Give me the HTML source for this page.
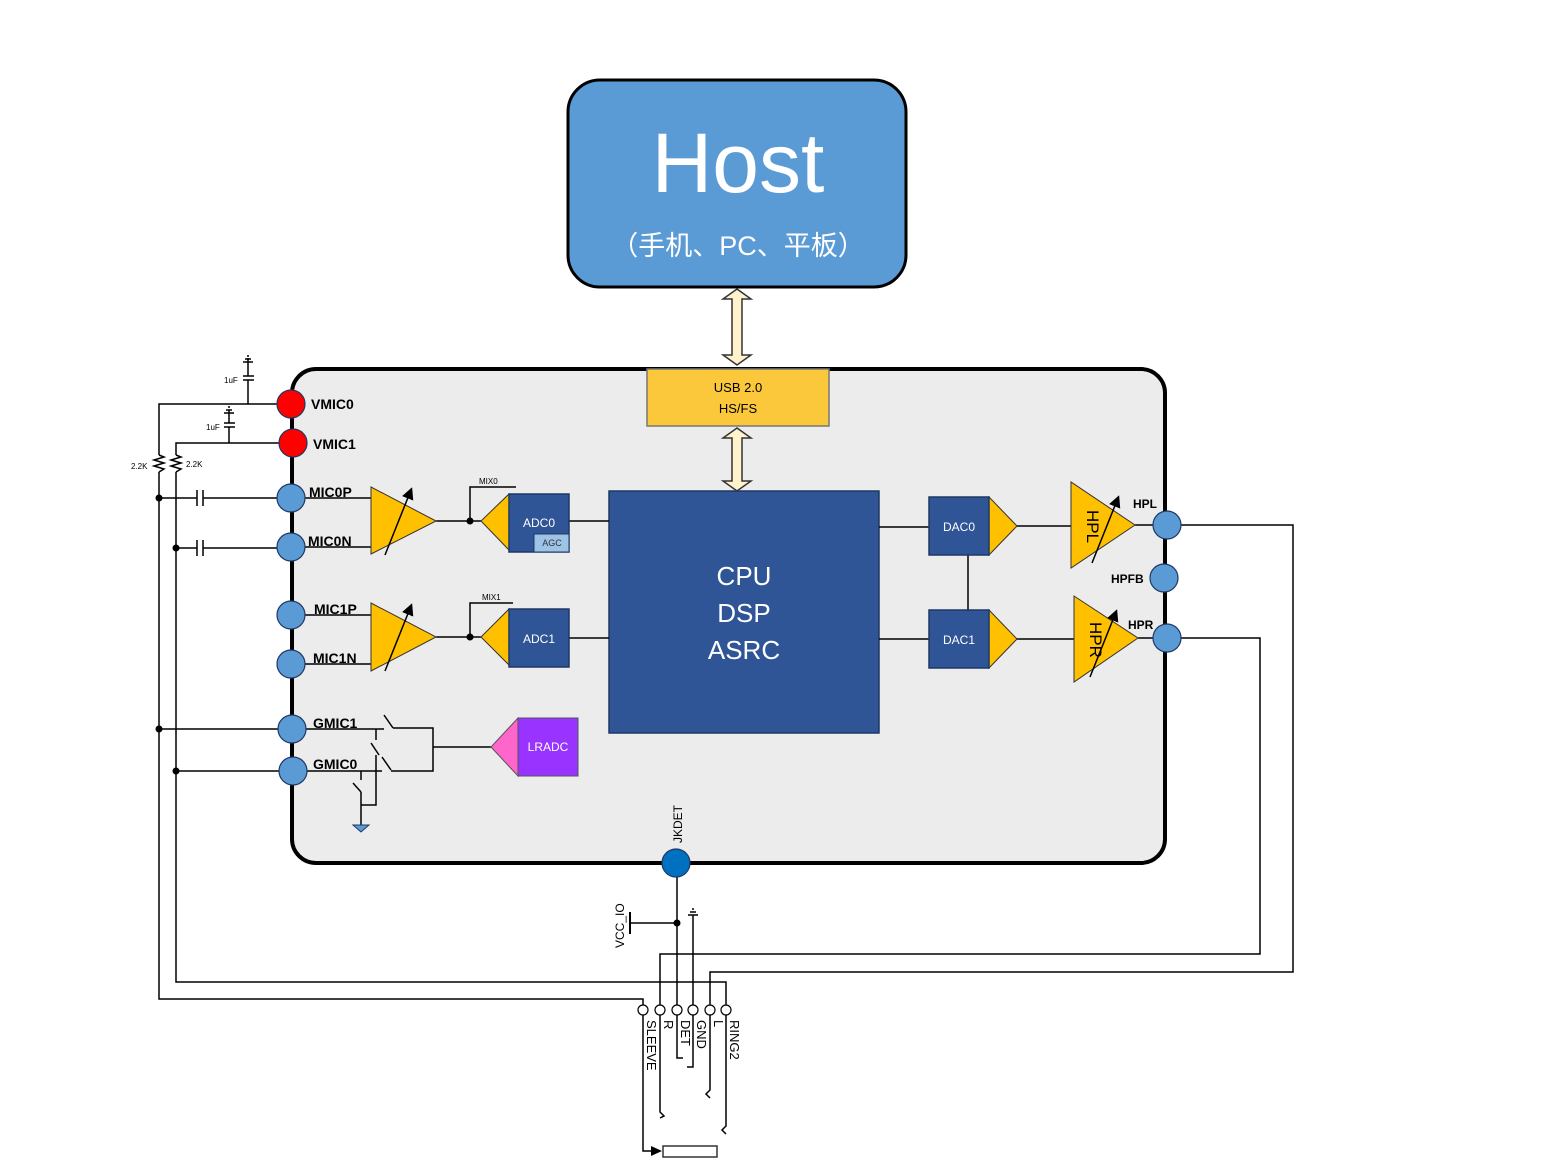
<!DOCTYPE html>
<html><head><meta charset="utf-8"><style>
html,body{margin:0;padding:0;background:#fff;}
svg{display:block;font-family:"Liberation Sans","Noto Sans CJK SC",sans-serif;}
.b{font-weight:bold;font-size:14px;fill:#000}
.w{fill:#fff}
</style></head><body>
<svg width="1558" height="1172" viewBox="0 0 1558 1172">
<defs>
<marker id="ah" markerWidth="8" markerHeight="8" refX="6" refY="4" orient="auto"><path d="M0,0 L8,4 L0,8z" fill="#000"/></marker>
</defs>
<!-- Host -->
<rect x="568" y="80" width="338" height="207" rx="32" fill="#5b9bd5" stroke="#000" stroke-width="3"/>
<text x="738" y="192" text-anchor="middle" font-size="84" class="w">Host</text>
<text x="738" y="255" text-anchor="middle" font-size="27" class="w">（手机、PC、平板）</text>
<!-- Main box -->
<rect x="292" y="369" width="873" height="494" rx="24" fill="#ececec" stroke="#000" stroke-width="4"/>
<!-- double arrows -->
<path d="M737,289 L751,299 L742,299 L742,355 L751,355 L737,365 L723,355 L732,355 L732,299 L723,299 Z" fill="#fff2cc" stroke="#333" stroke-width="1.5"/>
<path d="M737,428 L751,438 L742,438 L742,481 L751,481 L737,491 L723,481 L732,481 L732,438 L723,438 Z" fill="#fff2cc" stroke="#333" stroke-width="1.5"/>
<!-- USB -->
<rect x="647" y="369" width="182" height="57" fill="#fcc83b" stroke="#777" stroke-width="1.5"/>
<text x="738" y="392" text-anchor="middle" font-size="13">USB 2.0</text>
<text x="738" y="413" text-anchor="middle" font-size="13">HS/FS</text>
<!-- CPU -->
<rect x="609" y="491" width="270" height="242" fill="#2f5597" stroke="#1f3864" stroke-width="1.5"/>
<text x="744" y="585" text-anchor="middle" font-size="26" class="w">CPU</text>
<text x="744" y="622" text-anchor="middle" font-size="26" class="w">DSP</text>
<text x="744" y="659" text-anchor="middle" font-size="26" class="w">ASRC</text>
<g stroke="#000" stroke-width="1.5" fill="none">
<line x1="569" y1="521" x2="609" y2="521"/>
<line x1="569" y1="638" x2="609" y2="638"/>
<line x1="879" y1="527" x2="929" y2="527"/>
<line x1="879" y1="639" x2="929" y2="639"/>
<line x1="968" y1="555" x2="968" y2="610"/>
<line x1="1017" y1="526" x2="1071" y2="526"/>
<line x1="1017" y1="639" x2="1074" y2="639"/>
<line x1="1135" y1="525" x2="1167" y2="525"/>
<line x1="1138" y1="638" x2="1167" y2="638"/>
<!-- pin lines left -->
<line x1="291" y1="498" x2="371" y2="498"/>
<line x1="291" y1="547" x2="371" y2="547"/>
<line x1="291" y1="615" x2="371" y2="615"/>
<line x1="291" y1="664" x2="371" y2="664"/>
<line x1="436" y1="521" x2="481" y2="521"/>
<line x1="436" y1="637" x2="481" y2="637"/>
<polyline points="470,521 470,487 516,487"/>
<polyline points="470,637 470,603 513,603"/>
<!-- GMIC switches -->
<line x1="291" y1="729" x2="384" y2="729"/>
<line x1="384" y1="715" x2="393" y2="728"/>
<polyline points="393,728 433,728 433,771 391,771"/>
<line x1="382" y1="757" x2="391" y2="770"/>
<line x1="291" y1="771" x2="382" y2="771"/>
<line x1="433" y1="747" x2="491" y2="747"/>
<polyline points="376,729 376,740"/>
<line x1="371" y1="743" x2="379" y2="755"/>
<polyline points="376,755 376,805 361,805"/>
<polyline points="361,771 361,780"/>
<line x1="353" y1="783" x2="361" y2="792"/>
<polyline points="361,792 361,825"/>
<!-- outer wiring -->
<polyline points="1167,525 1293,525 1293,972 710,972 710,1010"/>
<polyline points="1167,638 1260,638 1260,954 660,954 660,1010"/>
<polyline points="277,404 159,404 159,455"/>
<polyline points="159,472 159,999 643,999 643,1010"/>
<polyline points="279,443 176,443 176,455"/>
<polyline points="176,472 176,982 726,982 726,1010"/>
<path d="M159,455 l5,2 l-10,3 l10,3 l-10,3 l10,3 l-5,3"/>
<path d="M176,455 l5,2 l-10,3 l10,3 l-10,3 l10,3 l-5,3"/>
<line x1="248" y1="404" x2="248" y2="380"/>
<line x1="243" y1="380" x2="254" y2="380"/><line x1="243" y1="376" x2="254" y2="376"/>
<line x1="248" y1="376" x2="248" y2="358"/>
<line x1="243" y1="362" x2="253" y2="362"/><line x1="245" y1="359" x2="251" y2="359"/><line x1="247" y1="356" x2="249" y2="356"/>
<line x1="229" y1="443" x2="229" y2="427"/>
<line x1="224" y1="427" x2="235" y2="427"/><line x1="224" y1="423" x2="235" y2="423"/>
<line x1="229" y1="423" x2="229" y2="410"/>
<line x1="224" y1="413" x2="234" y2="413"/><line x1="226" y1="410" x2="232" y2="410"/><line x1="228" y1="407" x2="230" y2="407"/>
<line x1="159" y1="498" x2="197" y2="498"/><line x1="203" y1="498" x2="277" y2="498"/>
<line x1="197" y1="490" x2="197" y2="506"/><line x1="203" y1="490" x2="203" y2="506"/>
<line x1="176" y1="548" x2="197" y2="548"/><line x1="203" y1="548" x2="277" y2="548"/>
<line x1="197" y1="540" x2="197" y2="556"/><line x1="203" y1="540" x2="203" y2="556"/>
<line x1="159" y1="729" x2="278" y2="729"/>
<line x1="176" y1="771" x2="279" y2="771"/>
<!-- jack -->
<line x1="677" y1="877" x2="677" y2="1005"/>
<line x1="630" y1="923" x2="677" y2="923"/>
<line x1="630" y1="912" x2="630" y2="934" stroke-width="2"/>
<line x1="693" y1="915" x2="693" y2="1005"/>
<line x1="688" y1="915" x2="698" y2="915"/><line x1="690" y1="912" x2="696" y2="912"/><line x1="692" y1="909" x2="694" y2="909"/>
<polyline points="643,1015 643,1151 656,1151"/>
<rect x="663" y="1146" width="54" height="11" stroke="#333"/>
<polyline points="660,1015 660,1112 664,1116 660,1118"/>
<polyline points="677,1015 677,1058 683,1058"/>
<polyline points="693,1015 693,1067 687,1067"/>
<polyline points="710,1015 710,1090 706,1094 710,1098"/>
<polyline points="726,1015 726,1126 722,1130 726,1134"/>
</g>
<path d="M651,1146 L662,1151 L651,1156Z" fill="#000"/>
<path d="M353,825 L369,825 L361,832Z" fill="#5b9bd5" stroke="#1f3864"/>
<g fill="#fff" stroke="#000" stroke-width="1.2">
<circle cx="643" cy="1010" r="5"/><circle cx="660" cy="1010" r="5"/><circle cx="677" cy="1010" r="5"/>
<circle cx="693" cy="1010" r="5"/><circle cx="710" cy="1010" r="5"/><circle cx="726" cy="1010" r="5"/>
</g>
<g font-size="13" fill="#000">
<text transform="translate(647,1020) rotate(90)">SLEEVE</text>
<text transform="translate(664,1020) rotate(90)">R</text>
<text transform="translate(681,1020) rotate(90)">DET</text>
<text transform="translate(697,1020) rotate(90)">GND</text>
<text transform="translate(714,1020) rotate(90)">L</text>
<text transform="translate(730,1020) rotate(90)">RING2</text>
<text transform="translate(624,948) rotate(-90)" font-size="12">VCC_IO</text>
<text transform="translate(682,843) rotate(-90)" font-size="12">JKDET</text>
</g>
<g fill="#000">
<circle cx="677" cy="923" r="3.5"/><circle cx="470" cy="521" r="3.5"/><circle cx="470" cy="637" r="3.5"/>
<circle cx="159" cy="498" r="3.5"/><circle cx="176" cy="548" r="3.5"/><circle cx="159" cy="729" r="3.5"/><circle cx="176" cy="771" r="3.5"/>
</g>
<g font-size="8" fill="#000">
<text x="224" y="383">1uF</text><text x="206" y="430">1uF</text>
<text x="131" y="469">2.2K</text><text x="186" y="467">2.2K</text>
<text x="479" y="484">MIX0</text><text x="482" y="600">MIX1</text>
</g>
<!-- amps -->
<g fill="#ffc000" stroke="#333" stroke-width="1">
<path d="M371,487 L371,554 L436,521Z"/>
<path d="M371,603 L371,671 L436,637Z"/>
<path d="M509,494 L509,550 L481,521Z"/>
<path d="M509,609 L509,665 L481,637Z"/>
<path d="M989,497 L989,555 L1017,526Z"/>
<path d="M989,610 L989,668 L1017,639Z"/>
<path d="M1071,482 L1071,568 L1135,525Z"/>
<path d="M1074,596 L1074,682 L1138,638Z"/>
</g>
<g stroke="#000" stroke-width="1.5" marker-end="url(#ah)">
<line x1="385" y1="555" x2="411" y2="490"/>
<line x1="385" y1="671" x2="411" y2="606"/>
<line x1="1092" y1="563" x2="1118" y2="498"/>
<line x1="1090" y1="677" x2="1116" y2="612"/>
</g>
<text transform="translate(1087,510) rotate(90)" font-size="17" fill="#000">HPL</text>
<text transform="translate(1090,622) rotate(90)" font-size="17" fill="#000">HPR</text>
<!-- blocks -->
<g fill="#2f5597" stroke="#1f3864" stroke-width="1.5">
<rect x="509" y="494" width="60" height="58"/>
<rect x="509" y="609" width="60" height="58"/>
<rect x="929" y="497" width="60" height="58"/>
<rect x="929" y="610" width="60" height="58"/>
</g>
<rect x="534" y="534" width="35" height="18" fill="#9dc3e6" stroke="#1f3864"/>
<text x="552" y="546" text-anchor="middle" font-size="9" fill="#333">AGC</text>
<g font-size="12" class="w" text-anchor="middle">
<text x="539" y="527">ADC0</text><text x="539" y="643">ADC1</text>
<text x="959" y="531">DAC0</text><text x="959" y="644">DAC1</text>
<text x="548" y="751">LRADC</text>
</g>
<path d="M518,718 L518,776 L491,747Z" fill="#ff66cc" stroke="#555"/>
<rect x="518" y="718" width="60" height="58" fill="#9933ff" stroke="#555"/>
<text x="548" y="751" text-anchor="middle" font-size="12" class="w">LRADC</text>
<!-- pins -->
<g stroke="#1f3864" stroke-width="1.2">
<circle cx="291" cy="404" r="14" fill="#ff0000"/>
<circle cx="293" cy="443" r="14" fill="#ff0000"/>
<circle cx="291" cy="498" r="14" fill="#5b9bd5"/>
<circle cx="291" cy="547" r="14" fill="#5b9bd5"/>
<circle cx="291" cy="615" r="14" fill="#5b9bd5"/>
<circle cx="291" cy="664" r="14" fill="#5b9bd5"/>
<circle cx="292" cy="729" r="14" fill="#5b9bd5"/>
<circle cx="293" cy="771" r="14" fill="#5b9bd5"/>
<circle cx="1167" cy="525" r="14" fill="#5b9bd5"/>
<circle cx="1164" cy="578" r="14" fill="#5b9bd5"/>
<circle cx="1167" cy="638" r="14" fill="#5b9bd5"/>
<circle cx="676" cy="863" r="14" fill="#0070c0"/>
</g>
<g class="b">
<text x="311" y="409">VMIC0</text><text x="313" y="449">VMIC1</text>
<text x="309" y="497">MIC0P</text><text x="308" y="546">MIC0N</text>
<text x="314" y="614">MIC1P</text><text x="313" y="663">MIC1N</text>
<text x="313" y="728">GMIC1</text><text x="313" y="769">GMIC0</text>
<text x="1133" y="508" font-size="12">HPL</text>
<text x="1111" y="583" font-size="12">HPFB</text>
<text x="1128" y="629" font-size="12">HPR</text>
</g>
</svg>
</body></html>
